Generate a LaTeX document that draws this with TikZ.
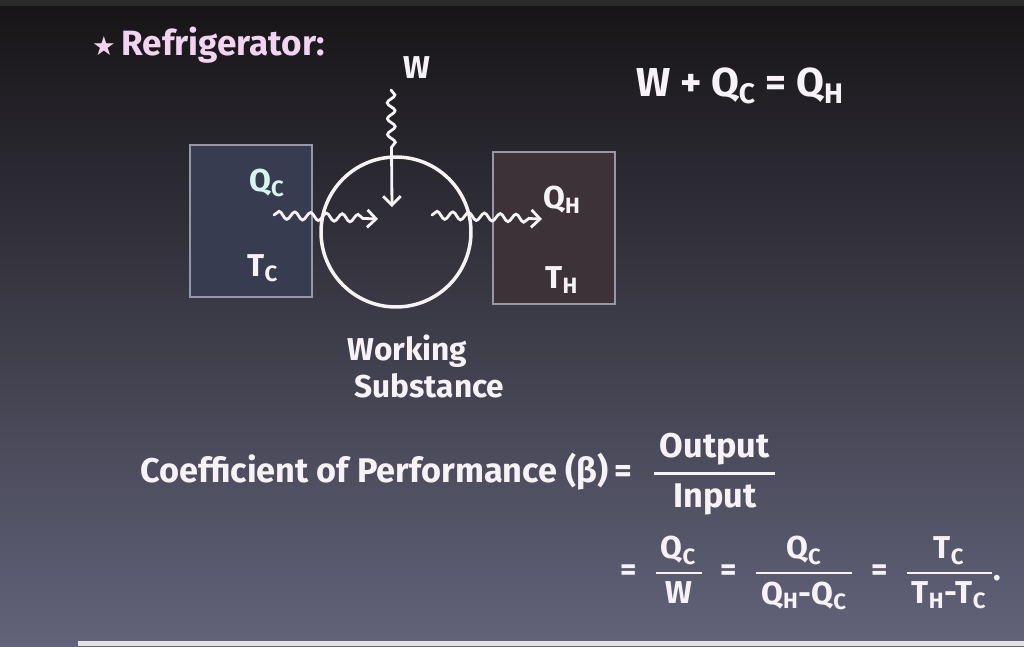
\documentclass[tikz,border=0pt]{standalone}
\usepackage{amsmath}
\usepackage{fontspec}
\setmainfont{Fira Sans}
\newfontfamily\symbolfont{DejaVu Sans}
\usetikzlibrary{arrows.meta, positioning, calc, decorations.pathmorphing}

\definecolor{chalk}{RGB}{246,242,246}
\definecolor{pinkchalk}{RGB}{242,212,242}
\definecolor{cyanchalk}{RGB}{214,244,240}
\definecolor{boardtop}{RGB}{22,20,22}
\definecolor{boardmid}{RGB}{40,39,46}
\definecolor{boardbot}{RGB}{98,99,122}
\definecolor{coldres}{RGB}{56,60,80}
\definecolor{hotres}{RGB}{60,50,56}
\definecolor{resedge}{RGB}{150,152,168}

\newcommand{\sub}[1]{\textsubscript{#1}}
\newcommand{\chalkfrac}[2]{\genfrac{}{}{1.4pt}{0}{\text{\,#1\,}}{\text{\,#2\,}}}
\newcommand{\eqs}{\mathrel{\text{=}}}

\begin{document}
\begin{tikzpicture}[
        x=0.02cm, y=-0.02cm,
        chalktext/.style={text=chalk, font=\bfseries\fontsize{18}{21}\selectfont},
        reservoir/.style={rectangle, draw=resedge, line width=1.2pt, minimum width=2.44cm, minimum height=3.04cm},
        heat/.style={draw=chalk, line width=1.6pt, line cap=round, decorate,
            decoration={snake, amplitude=2.2pt, segment length=9pt, post length=7pt},
            -{Straight Barb[length=5pt, width=10pt]}}
    ]
        \useasboundingbox (0,0) rectangle (1024,646);
        % Board
        \shade[top color=boardtop, middle color=boardmid, bottom color=boardbot] (0,0) rectangle (1024,646);
        \fill[boardtop!80!gray] (0,0) rectangle (1024,6);
        \fill[chalk!85!gray] (78,641) rectangle (1024,646);

        % Title
        \node[chalktext, text=pinkchalk, anchor=west, font=\bfseries\fontsize{20}{24}\selectfont] (title) at (86,45) {{\symbolfont\fontsize{15}{15}\selectfont ★}\,Refrigerator:};

        % Reservoirs and working substance
        \node[reservoir, fill=coldres] (cold) at (251,221) {};
        \node[reservoir, fill=hotres] (hot) at (554,228) {};
        \node[circle, draw=chalk, line width=2pt, minimum size=3cm] (ws) at (396,232) {};

        \node[chalktext, text=cyanchalk] (qc) at (267,183) {Q\sub{C}};
        \node[chalktext] (tc) at (263,268) {T\sub{C}};
        \node[chalktext] (qh) at (562,200) {Q\sub{H}};
        \node[chalktext] (th) at (562,280) {T\sub{H}};

        % Work in
        \node[chalktext] (w) at (417,68) {W};
        \coordinate (win) at (391,90);
        \coordinate (wout) at (392,207);
        \draw[heat, decoration={post length=1.1cm}] (win) -- (wout);

        % Heat flows
        \coordinate (qcin) at (274,215);
        \coordinate (qcout) at (378,219);
        \draw[heat] (qcin) -- (qcout);
        \coordinate (qhin) at (432,215);
        \coordinate (qhout) at (542,219);
        \draw[heat] (qhin) -- (qhout);

        \node[chalktext, align=left, below=0.4cm of ws, xshift=0.6cm] (wslabel) {Working\\\hspace{4pt}Substance};

        % Energy balance
        \node[chalktext, font=\bfseries\fontsize{23}{26}\selectfont, anchor=west] (balance) at (630,86) {W + Q\sub{C} = Q\sub{H}};

        % Coefficient of performance
        \node[chalktext, anchor=west, font=\bfseries\fontsize{19.5}{23}\selectfont] (cop) at (134,474) {Coefficient of Performance (β)\,$\eqs\; \chalkfrac{Output}{Input}$};
        \node[chalktext, anchor=west] (copval) at (614,573) {$\eqs\; \chalkfrac{Q\sub{C}}{W} \;\eqs\; \chalkfrac{\,Q\sub{C}\,}{Q\sub{H}-Q\sub{C}} \;\eqs\; \chalkfrac{\;T\sub{C}\;}{T\sub{H}-T\sub{C}}$.};
    \end{tikzpicture}
\end{document}
